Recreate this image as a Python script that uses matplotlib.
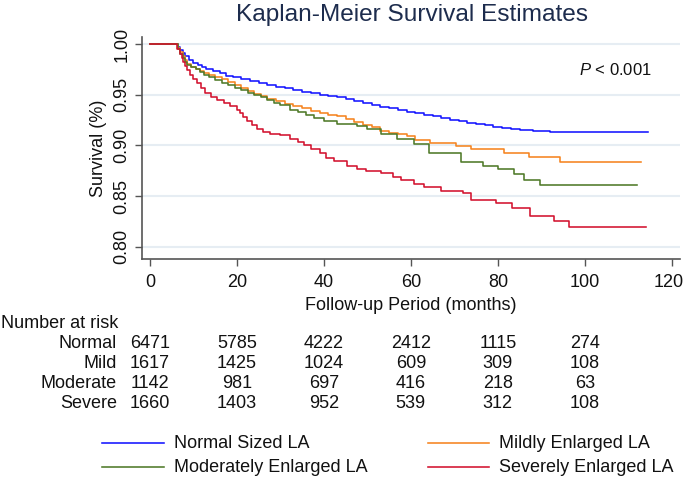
import matplotlib
matplotlib.use("Agg")
import matplotlib.pyplot as plt
import matplotlib.transforms as mtransforms
from matplotlib.lines import Line2D

plt.rcParams['font.family'] = ['Liberation Sans', 'DejaVu Sans']
plt.rcParams['mathtext.fontset'] = 'custom'
plt.rcParams['mathtext.it'] = 'Liberation Sans:italic'
plt.rcParams['mathtext.rm'] = 'Liberation Sans'

# ---------------- data ----------------
normal_t = [0, 6.5, 7.0, 7.5, 8.0, 9.0, 10, 11, 12, 13, 14.5, 16, 17.5, 19, 21, 23, 25, 27, 29, 31, 33, 35,
            37, 39, 41, 43, 45, 47, 49, 51, 53, 55, 57, 59, 61, 63, 65, 67, 69, 71, 73, 75, 77, 79, 81, 83,
            85, 88, 92, 114.6]
normal_s = [1.0, 0.997, 0.994, 0.991, 0.988, 0.984, 0.981, 0.979, 0.977, 0.975, 0.973, 0.971, 0.969, 0.968,
            0.966, 0.964, 0.962, 0.960, 0.958, 0.957, 0.955, 0.953, 0.952, 0.950, 0.949, 0.948, 0.946, 0.944,
            0.942, 0.940, 0.938, 0.937, 0.935, 0.933, 0.932, 0.930, 0.929, 0.927, 0.925, 0.924, 0.922, 0.921,
            0.920, 0.918, 0.917, 0.916, 0.915, 0.914, 0.913, 0.913]

mild_t = [0, 6.5, 7.0, 7.5, 8.0, 8.5, 9.5, 10.5, 11.5, 12.5, 13.5, 15, 16.5, 18, 19.5, 21, 22.5, 24, 25.5,
          27, 29, 31, 33, 35, 37, 39, 41, 43, 45, 47, 49, 51, 53, 55, 57, 59, 61, 64.5, 70.4, 73.8, 81.4,
          87.1, 94.2, 113.0]
mild_s = [1.0, 0.996, 0.992, 0.988, 0.984, 0.980, 0.977, 0.975, 0.973, 0.971, 0.970, 0.968, 0.966, 0.963,
          0.960, 0.957, 0.954, 0.951, 0.949, 0.946, 0.944, 0.941, 0.939, 0.937, 0.934, 0.932, 0.930, 0.929,
          0.926, 0.923, 0.920, 0.918, 0.914, 0.912, 0.911, 0.909, 0.905, 0.902, 0.899, 0.897, 0.893, 0.889,
          0.884, 0.884]

moderate_t = [0, 6.5, 7.0, 7.5, 8.0, 8.5, 9.5, 10.5, 11.5, 12.5, 13.5, 15, 16.5, 18, 19.5, 21, 22.5, 24,
              25.5, 27, 28.5, 30, 32.3, 34, 36, 37.7, 40, 43.1, 47.7, 50, 53.1, 56.9, 60.8, 64.2, 71.5,
              76.6, 80, 83.7, 86, 89.6, 112.0]
moderate_s = [1.0, 0.995, 0.990, 0.986, 0.982, 0.979, 0.977, 0.975, 0.972, 0.970, 0.968, 0.965, 0.962,
              0.960, 0.957, 0.955, 0.952, 0.950, 0.948, 0.945, 0.942, 0.940, 0.935, 0.933, 0.930, 0.927,
              0.924, 0.921, 0.919, 0.916, 0.911, 0.906, 0.901, 0.8925, 0.884, 0.880, 0.877, 0.872, 0.866,
              0.861, 0.861]

severe_t = [0, 6.3, 6.8, 7.3, 7.7, 8.1, 8.6, 9.2, 10, 10.8, 11.7, 12.7, 14, 15.4, 17, 18.5, 20, 20.8, 21.5,
            22.3, 23.5, 24.6, 26, 27.7, 30, 32.3, 34, 35.4, 37, 39.2, 40.4, 42.3, 45.4, 47.7, 49.6, 53.1,
            55.8, 57.7, 60.8, 63, 66.9, 71.9, 73.8, 79.6, 83.3, 87.5, 93, 96.4, 114.0]
severe_s = [1.0, 0.995, 0.990, 0.986, 0.982, 0.978, 0.974, 0.970, 0.966, 0.9615, 0.957, 0.952, 0.948,
            0.945, 0.942, 0.9385, 0.935, 0.932, 0.928, 0.924, 0.920, 0.916, 0.913, 0.9115, 0.910, 0.906,
            0.903, 0.9007, 0.897, 0.8925, 0.8876, 0.8842, 0.880, 0.8767, 0.8744, 0.8728, 0.8688, 0.8662,
            0.862, 0.8586, 0.8553, 0.853, 0.8464, 0.8432, 0.8383, 0.830, 0.8257, 0.820, 0.820]

risk_times = [0, 20, 40, 60, 80, 100]
risk_groups = ['Normal', 'Mild', 'Moderate', 'Severe']
risk_normal = [6471, 5785, 4222, 2412, 1115, 274]
risk_mild = [1617, 1425, 1024, 609, 309, 108]
risk_moderate = [1142, 981, 697, 416, 218, 63]
risk_severe = [1660, 1403, 952, 539, 312, 108]

legend_labels = ['Normal Sized LA', 'Mildly Enlarged LA', 'Moderately Enlarged LA', 'Severely Enlarged LA']
colors = ['#1414ff', '#f5841f', '#4f7a28', '#d2122e']

xticks = [0, 20, 40, 60, 80, 100, 120]
yticks = [0.80, 0.85, 0.90, 0.95, 1.00]

# ---------------- figure ----------------
fig = plt.figure(figsize=(6.85, 4.78), dpi=100)
W, H = 685, 478
ax = fig.add_axes([141.7 / W, 1 - 259 / H, (680 - 141.7) / W, (259 - 37) / H])

series = [(normal_t, normal_s), (mild_t, mild_s), (moderate_t, moderate_s), (severe_t, severe_s)]
for (t, s), c, lab in zip(series, colors, legend_labels):
    ax.step(t, s, where='post', color=c, lw=1.15, label=lab)

ax.set_xlim(-1.9, 121.9)
ax.set_ylim(0.788, 1.007)
ax.set_xticks(xticks)
ax.set_yticks(yticks)
ax.set_yticklabels([f'{v:.2f}' for v in yticks], rotation=90, va='center')
ax.grid(axis='y', color='#e6edf3', lw=1.5)
ax.set_axisbelow(True)
for sp in ['top', 'right']:
    ax.spines[sp].set_visible(False)
for sp in ['left', 'bottom']:
    ax.spines[sp].set_color('#555555')
    ax.spines[sp].set_linewidth(1.2)
ax.tick_params(axis='both', colors='#555555', labelcolor='#111111', labelsize=13, length=5, width=1.0)
ax.tick_params(axis='x', pad=6)
ax.tick_params(axis='y', pad=3)
ax.set_xlabel('Follow-up Period (months)', fontsize=13, color='#111111', labelpad=4)
ax.set_ylabel('Survival (%)', fontsize=13, color='#111111', labelpad=5)

# nudge the last x tick label a little so it stays inside the canvas
last_lab = ax.get_xticklabels()[-1]
last_lab.set_transform(last_lab.get_transform() +
                       mtransforms.ScaledTranslation(-3 / 100, 0, fig.dpi_scale_trans))

fig.text(412 / W, 1 - 15 / H, 'Kaplan-Meier Survival Estimates', ha='center', va='center',
         fontsize=17.6, color='#1d2c4d')

fig.text(652 / W, 1 - 70 / H, r'$\mathit{P}$ < 0.001', ha='right', va='center',
         fontsize=12, color='#111111')

# risk table
trans = mtransforms.blended_transform_factory(ax.transData, fig.transFigure)
fig.text(1 / W, 1 - 323 / H, 'Number at risk', ha='left', va='center', fontsize=13, color='#111111')
row_y = [343, 363, 383, 403]
for name, vals, yy in zip(risk_groups, [risk_normal, risk_mild, risk_moderate, risk_severe], row_y):
    fig.text(117 / W, 1 - yy / H, name, ha='right', va='center', fontsize=13, color='#111111')
    for tt, v in zip(risk_times, vals):
        ax.text(tt, 1 - yy / H, str(v), transform=trans, ha='center', va='center', fontsize=13,
                color='#111111')

# legend (drawn by hand, two columns)
leg_rows = [443, 467]
leg_cols = [(102, 164, 174), (428, 489, 499)]
leg_order = [(0, 0, 0), (0, 1, 1), (1, 0, 2), (1, 1, 3)]
for r, ccol, idx in leg_order:
    x0, x1, xt = leg_cols[ccol]
    yy = 1 - leg_rows[r] / H
    fig.add_artist(Line2D([x0 / W, x1 / W], [yy, yy], color=colors[idx], lw=1.15,
                          transform=fig.transFigure))
    fig.text(xt / W, yy, legend_labels[idx], ha='left', va='center', fontsize=13, color='#111111')

fig.savefig('out.png', dpi=100)
